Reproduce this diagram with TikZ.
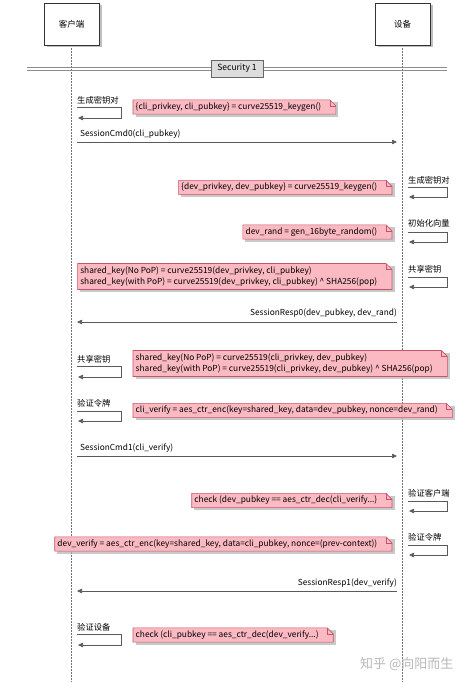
\documentclass[tikz,border=0pt]{standalone}
\usepackage{fontspec}
\setmainfont{Noto Sans CJK SC}
\usetikzlibrary{backgrounds,calc,arrows.meta}

\definecolor{notefill}{HTML}{FBB9C2}
\definecolor{noteborder}{HTML}{C8546A}
\definecolor{lineg}{HTML}{5A5A5A}
\definecolor{secfill}{HTML}{DDDDDD}

\tikzset{
  notetext/.style={inner xsep=2.5pt, inner ysep=2.5pt, align=left, font=\fontsize{8.35}{11.8}\selectfont},
  lbl/.style={inner sep=0pt, font=\fontsize{8.3}{10}\selectfont},
  partbox/.style={draw=black!80, fill=white, line width=0.7pt, minimum width=55pt, minimum height=42pt, font=\fontsize{8.5}{10}\selectfont},
  lifeline/.style={draw=black!55, dash pattern=on 1.5pt off 1.5pt, line width=0.6pt},
  msgline/.style={draw=lineg, line width=0.6pt, -{Triangle[length=5pt,width=4.5pt]}},
  secbox/.style={draw=black!60, fill=secfill, line width=0.7pt, minimum width=52pt, minimum height=17pt, inner sep=2pt, font=\fontsize{8.5}{10}\selectfont},
  wmark/.style={text=black!28, font=\fontsize{13}{14}\selectfont, inner sep=0pt}
}

\newcommand{\mknote}[4]{%
  \node[notetext, anchor=#2] (#1) at (#3) {#4\hspace*{12pt}};
  \begin{pgfonlayer}{background}
    \fill[black!30, opacity=0.7] ($(#1.north west)+(2.5pt,-2.5pt)$) -- ($(#1.north east)+(2.5pt,-2.5pt)$) -- ($(#1.south east)+(2.5pt,-2.5pt)$) -- ($(#1.south west)+(2.5pt,-2.5pt)$) -- cycle;
    \filldraw[fill=notefill, draw=noteborder, line width=0.6pt] (#1.north west) -- ($(#1.north east)+(-6pt,0)$) -- ($(#1.north east)+(0,-6pt)$) -- (#1.south east) -- (#1.south west) -- cycle;
    \draw[noteborder, line width=0.6pt] ($(#1.north east)+(-6pt,0)$) |- ($(#1.north east)+(0,-6pt)$);
  \end{pgfonlayer}
}

% name, x1, x2, ylabel, ytop, ybot, label
\newcommand{\selfloop}[7]{%
  \node[lbl, anchor=west] (#1l) at (#2,#4) {#7};
  \coordinate (#1a) at (#2,#5);
  \coordinate (#1b) at (#3,#5);
  \coordinate (#1c) at (#3,#6);
  \coordinate (#1d) at (#2+1,#6);
  \draw[msgline] (#1a) -- (#1b) -- (#1c) -- (#1d);
}

\begin{document}
\begin{tikzpicture}[x=1pt,y=-1pt]
\useasboundingbox (0,0) rectangle (474,682);

% participants
\fill[black!25] (46.5,5.5) rectangle (101.5,47.5);
\fill[black!25] (377.5,5.5) rectangle (432.5,47.5);
\node[partbox] (client) at (71.5,24) {客户端};
\node[partbox] (device) at (402.5,24) {设备};
\coordinate (cend) at (71.5,682);
\coordinate (dend) at (402.5,682);
\begin{pgfonlayer}{background}
\draw[lifeline] (client.south) -- (cend);
\draw[lifeline] (device.south) -- (dend);
\end{pgfonlayer}

% divider
\coordinate (divL1) at (27,67);
\coordinate (divR1) at (447,67);
\coordinate (divL2) at (27,70);
\coordinate (divR2) at (447,70);
\draw[black!45, line width=0.7pt] (divL1) -- (divR1);
\draw[black!45, line width=0.7pt] (divL2) -- (divR2);
\node[secbox] (sec) at (237,68.5) {Security 1};

% client keygen
\selfloop{sa}{77}{121}{100}{107}{118}{生成密钥对}
\mknote{n1}{west}{133,107}{\{cli\_privkey, cli\_pubkey\} = curve25519\_keygen()}

% SessionCmd0
\coordinate (m1s) at (77,142);
\coordinate (m1e) at (397,142);
\draw[msgline] (m1s) -- (m1e);
\node[lbl, anchor=west] (m1l) at (80,134) {SessionCmd0(cli\_pubkey)};

% device keygen
\selfloop{sb}{408}{447}{180}{187}{197}{生成密钥对}
\mknote{n2}{east}{392,187.5}{\{dev\_privkey, dev\_pubkey\} = curve25519\_keygen()}

% dev rand
\selfloop{sc}{408}{447}{223}{232}{242}{初始化向量}
\mknote{n3}{east}{392,232}{dev\_rand = gen\_16byte\_random()}

% device shared key
\selfloop{sd}{408}{447}{269}{277}{287}{共享密钥}
\mknote{n4}{east}{392,276.5}{shared\_key(No PoP) = curve25519(dev\_privkey, cli\_pubkey)\\shared\_key(with PoP) = curve25519(dev\_privkey, cli\_pubkey) \^{} SHA256(pop)}

% SessionResp0
\coordinate (m2s) at (397,322);
\coordinate (m2e) at (77,322);
\draw[msgline] (m2s) -- (m2e);
\node[lbl, anchor=east] (m2l) at (397,313) {SessionResp0(dev\_pubkey, dev\_rand)};

% client shared key
\selfloop{se}{77}{121}{359}{366}{377}{共享密钥}
\mknote{n5}{west}{133,363.5}{shared\_key(No PoP) = curve25519(cli\_privkey, dev\_pubkey)\\shared\_key(with PoP) = curve25519(cli\_privkey, dev\_pubkey) \^{} SHA256(pop)}

% client verify
\selfloop{sf}{77}{121}{403}{411}{421}{验证令牌}
\mknote{n6}{west}{133,410.5}{cli\_verify = aes\_ctr\_enc(key=shared\_key, data=dev\_pubkey, nonce=dev\_rand)}

% SessionCmd1
\coordinate (m3s) at (77,456);
\coordinate (m3e) at (397,456);
\draw[msgline] (m3s) -- (m3e);
\node[lbl, anchor=west] (m3l) at (80,448) {SessionCmd1(cli\_verify)};

% device check
\selfloop{sg}{408}{447}{493}{501}{511}{验证客户端}
\mknote{n7}{east}{392,500.5}{check (dev\_pubkey == aes\_ctr\_dec(cli\_verify...)}

% device verify
\selfloop{sh}{408}{447}{537}{545}{555}{验证令牌}
\mknote{n8}{east}{392,544}{dev\_verify = aes\_ctr\_enc(key=shared\_key, data=cli\_pubkey, nonce=(prev-context))}

% SessionResp1
\coordinate (m4s) at (397,591);
\coordinate (m4e) at (77,591);
\draw[msgline] (m4s) -- (m4e);
\node[lbl, anchor=east] (m4l) at (397,583) {SessionResp1(dev\_verify)};

% client check
\selfloop{si}{77}{121}{627}{634}{645}{验证设备}
\mknote{n9}{west}{133,635}{check (cli\_pubkey == aes\_ctr\_dec(dev\_verify...)}

% watermark
\node[wmark, anchor=west] (wm) at (360,664) {知乎 @向阳而生};
\end{tikzpicture}
\end{document}
